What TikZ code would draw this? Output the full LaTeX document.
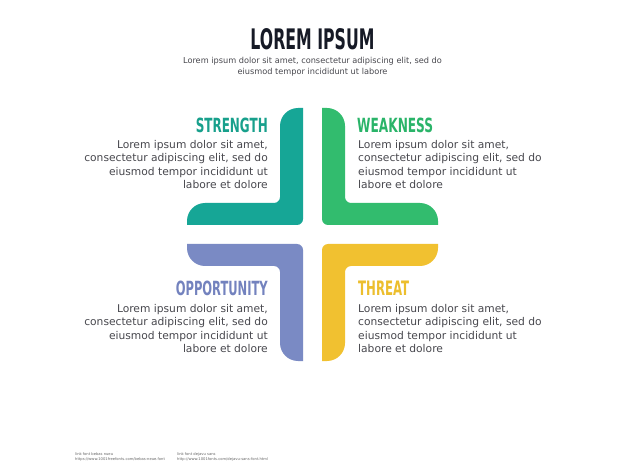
\documentclass[tikz,border=0pt]{standalone}
\usepackage{fontspec}
\setmainfont{DejaVu Sans}
\usepackage{graphicx}
\definecolor{cteal}{RGB}{22,166,150}
\definecolor{cgreen}{RGB}{50,188,110}
\definecolor{cpurple}{RGB}{122,138,196}
\definecolor{cyellow}{RGB}{241,193,48}
\definecolor{lteal}{RGB}{24,160,140}
\definecolor{lgreen}{RGB}{42,180,105}
\definecolor{lpurple}{RGB}{115,130,190}
\definecolor{lyellow}{RGB}{236,190,45}
\definecolor{bodytxt}{RGB}{72,72,78}
\definecolor{titletxt}{RGB}{22,26,38}
\tikzset{
  leaf/.pic={\fill[#1] (297,-225) -- (187,-225) -- (187,-221)
      arc[start angle=180,end angle=90,radius=18] -- (274,-203)
      arc[start angle=270,end angle=360,radius=6] -- (280,-126)
      arc[start angle=180,end angle=90,radius=18] -- (303,-108)
      -- (303,-219) arc[start angle=0,end angle=-90,radius=6] -- cycle;},
  lbl/.style={inner sep=0pt},
  body/.style={inner sep=0pt, text=bodytxt, font=\fontsize{10.7}{13.5}\selectfont},
  foot/.style={inner sep=0pt, anchor=north west, align=left, text=black!60, font=\fontsize{3.7}{5.6}\selectfont}
}
\begin{document}
\begin{tikzpicture}[x=1pt,y=1pt]
\useasboundingbox (0,0) rectangle (626,-470);
\fill[white] (0,0) rectangle (626,-470);
% leaves
\pic {leaf=cteal};
\pic[xscale=-1] at (625,0) {leaf=cgreen};
\pic[yscale=-1] at (0,-469) {leaf=cpurple};
\pic[xscale=-1,yscale=-1] at (625,-469) {leaf=cyellow};
% title
\node[lbl, anchor=south, text=titletxt] (title) at (312.5,-50) {\resizebox{124pt}{21pt}{\bfseries LOREM IPSUM}};
\node[inner sep=0pt, align=center, text=bodytxt, font=\fontsize{8.2}{11}\selectfont] (sub) at (312.5,-66.5)
  {Lorem ipsum dolor sit amet, consectetur adipiscing elit, sed do\\eiusmod tempor incididunt ut labore};
% labels
\node[lbl, anchor=south east, text=lteal] (strT) at (268,-133) {\resizebox{72pt}{14.5pt}{\bfseries STRENGTH}};
\node[lbl, anchor=south west, text=lgreen] (weakT) at (357,-133) {\resizebox{76pt}{14.5pt}{\bfseries WEAKNESS}};
\node[lbl, anchor=south east, text=lpurple] (oppT) at (268,-296) {\resizebox{92pt}{14.5pt}{\bfseries OPPORTUNITY}};
\node[lbl, anchor=south west, text=lyellow] (thrT) at (358,-296) {\resizebox{51pt}{14.5pt}{\bfseries THREAT}};
% bodies
\node[body, anchor=north east, align=right] (strB) at (268,-140)
  {Lorem ipsum dolor sit amet,\\consectetur adipiscing elit, sed do\\eiusmod tempor incididunt ut\\labore et dolore};
\node[body, anchor=north west, align=left] (weakB) at (358,-140)
  {Lorem ipsum dolor sit amet,\\consectetur adipiscing elit, sed do\\eiusmod tempor incididunt ut\\labore et dolore};
\node[body, anchor=north east, align=right] (oppB) at (268,-304)
  {Lorem ipsum dolor sit amet,\\consectetur adipiscing elit, sed do\\eiusmod tempor incididunt ut\\labore et dolore};
\node[body, anchor=north west, align=left] (thrB) at (358,-304)
  {Lorem ipsum dolor sit amet,\\consectetur adipiscing elit, sed do\\eiusmod tempor incididunt ut\\labore et dolore};
% footer
\node[foot] (f1) at (75,-452) {link font bebas nueu\\https://www.1001freefonts.com/bebas-neue.font};
\node[foot] (f2) at (177,-452) {link font dejavu sans\\http://www.1001fonts.com/dejavu-sans-font.html};
\end{tikzpicture}
\end{document}
